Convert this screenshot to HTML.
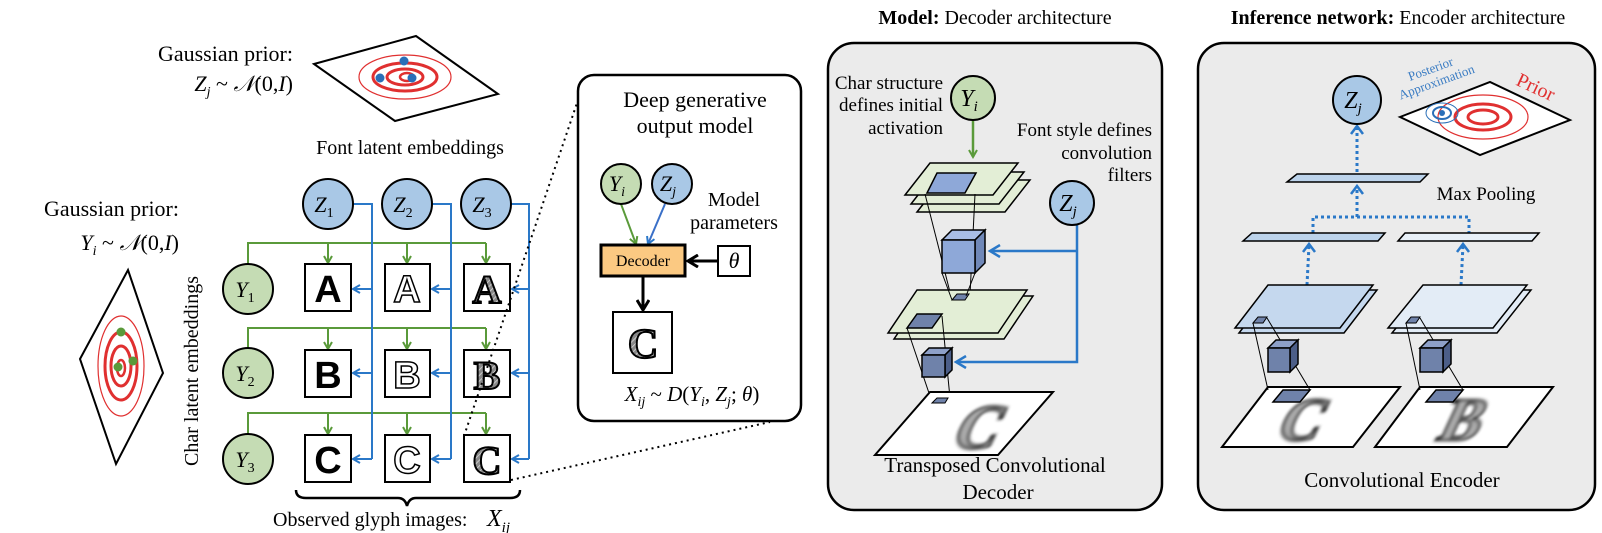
<!DOCTYPE html>
<html><head><meta charset="utf-8"><style>
html,body{margin:0;padding:0;background:#fff;}
svg{display:block;font-family:"Liberation Serif","Times New Roman","Noto Serif CJK SC","DejaVu Serif",serif;}
text{font-family:"Liberation Serif","Times New Roman","Noto Serif CJK SC","DejaVu Serif",serif;}
text.sans{font-family:"Liberation Sans",sans-serif;}
</style></head><body>
<svg width="1602" height="533" viewBox="0 0 1602 533" xmlns="http://www.w3.org/2000/svg" font-family="Liberation Serif, serif">
<defs>
<marker id="ag" markerWidth="10" markerHeight="10" refX="8" refY="5" orient="auto" markerUnits="userSpaceOnUse"><path d="M1,1 L8,5 L1,9" fill="none" stroke="#5a9a3a" stroke-width="2"/></marker>
<marker id="ab" markerWidth="10" markerHeight="10" refX="8" refY="5" orient="auto" markerUnits="userSpaceOnUse"><path d="M1,1 L8,5 L1,9" fill="none" stroke="#2a78c8" stroke-width="2"/></marker>
<marker id="ab2" markerWidth="14" markerHeight="14" refX="11" refY="7" orient="auto" markerUnits="userSpaceOnUse"><path d="M1,1 L11,7 L1,13" fill="none" stroke="#2a78c8" stroke-width="2.5"/></marker>
<marker id="ak" markerWidth="14" markerHeight="14" refX="11" refY="7" orient="auto" markerUnits="userSpaceOnUse"><path d="M1,1 L11,7 L1,13" fill="none" stroke="#000" stroke-width="3"/></marker>
<filter id="bl"><feGaussianBlur stdDeviation="1.6"/></filter>
<pattern id="hatch" width="4" height="4" patternUnits="userSpaceOnUse" patternTransform="rotate(45)"><rect width="4" height="4" fill="#888"/><line x1="0" y1="0" x2="0" y2="4" stroke="#ddd" stroke-width="1.5"/></pattern>
</defs>

<!-- ===== Left section ===== -->
<text x="293" y="61" font-size="22" text-anchor="end">Gaussian prior:</text>
<text x="293" y="91" font-size="22" text-anchor="end" font-style="italic">Z<tspan font-size="14" dy="5">j</tspan><tspan dy="-5" font-style="normal"> ~ </tspan>𝒩<tspan font-style="normal">(0,</tspan>I<tspan font-style="normal">)</tspan></text>
<polygon points="314,64 416,36 498,94 395,121" fill="#fff" stroke="#000" stroke-width="2"/>
<ellipse cx="405" cy="77" rx="46" ry="22" fill="none" stroke="#e03030" stroke-width="1.2"/>
<ellipse cx="405" cy="77" rx="32" ry="14" fill="none" stroke="#e03030" stroke-width="3"/>
<ellipse cx="405" cy="77" rx="18" ry="8" fill="none" stroke="#e03030" stroke-width="3"/>
<ellipse cx="407" cy="77" rx="7" ry="4" fill="none" stroke="#e03030" stroke-width="2.5"/>
<circle cx="404" cy="61" r="4.5" fill="#2a6fb8"/><circle cx="380" cy="78" r="4.5" fill="#2a6fb8"/><circle cx="412" cy="78" r="4.5" fill="#2a6fb8"/>

<text x="410" y="154" font-size="20" text-anchor="middle">Font latent embeddings</text>

<text x="179" y="216" font-size="22" text-anchor="end">Gaussian prior:</text>
<text x="179" y="250" font-size="22" text-anchor="end" font-style="italic">Y<tspan font-size="14" dy="5">i</tspan><tspan dy="-5" font-style="normal"> ~ </tspan>𝒩<tspan font-style="normal">(0,</tspan>I<tspan font-style="normal">)</tspan></text>
<polygon points="128,270 163,373 116,464 80,359" fill="#fff" stroke="#000" stroke-width="2"/>
<ellipse cx="121" cy="366" rx="23" ry="50" fill="none" stroke="#e03030" stroke-width="1.2"/>
<ellipse cx="121" cy="366" rx="16" ry="34" fill="none" stroke="#e03030" stroke-width="3"/>
<ellipse cx="121" cy="366" rx="10" ry="20" fill="none" stroke="#e03030" stroke-width="3"/>
<ellipse cx="121" cy="368" rx="4" ry="8" fill="none" stroke="#e03030" stroke-width="2.5"/>
<circle cx="121" cy="332" r="4.5" fill="#5a9a3a"/><circle cx="118" cy="367" r="4.5" fill="#5a9a3a"/><circle cx="133" cy="361" r="4.5" fill="#5a9a3a"/>

<text x="0" y="0" font-size="20" text-anchor="middle" transform="translate(198,371) rotate(-90)">Char latent embeddings</text>

<!-- green lines -->
<g stroke="#5a9a3a" stroke-width="2" fill="none">
<path d="M248,264 V243 H486"/><path d="M248,348 V328 H486"/><path d="M248,434 V413 H486"/>
<line x1="328" y1="243" x2="328" y2="263" marker-end="url(#ag)"/><line x1="407" y1="243" x2="407" y2="263" marker-end="url(#ag)"/><line x1="486" y1="243" x2="486" y2="263" marker-end="url(#ag)"/>
<line x1="328" y1="328" x2="328" y2="349" marker-end="url(#ag)"/><line x1="407" y1="328" x2="407" y2="349" marker-end="url(#ag)"/><line x1="486" y1="328" x2="486" y2="349" marker-end="url(#ag)"/>
<line x1="328" y1="413" x2="328" y2="434" marker-end="url(#ag)"/><line x1="407" y1="413" x2="407" y2="434" marker-end="url(#ag)"/><line x1="486" y1="413" x2="486" y2="434" marker-end="url(#ag)"/>
</g>
<!-- blue lines -->
<g stroke="#2a78c8" stroke-width="2" fill="none">
<path d="M353,204 H372 V459"/><path d="M432,204 H451 V459"/><path d="M511,204 H529 V459"/>
<line x1="372" y1="289" x2="353" y2="289" marker-end="url(#ab)"/><line x1="372" y1="373" x2="353" y2="373" marker-end="url(#ab)"/><line x1="372" y1="459" x2="353" y2="459" marker-end="url(#ab)"/>
<line x1="451" y1="289" x2="432" y2="289" marker-end="url(#ab)"/><line x1="451" y1="373" x2="432" y2="373" marker-end="url(#ab)"/><line x1="451" y1="459" x2="432" y2="459" marker-end="url(#ab)"/>
<line x1="529" y1="289" x2="512" y2="289" marker-end="url(#ab)"/><line x1="529" y1="373" x2="512" y2="373" marker-end="url(#ab)"/><line x1="529" y1="459" x2="512" y2="459" marker-end="url(#ab)"/>
</g>
<!-- Z circles -->
<g stroke="#000" stroke-width="2" fill="#a9c8e6">
<circle cx="328" cy="204" r="25"/><circle cx="407" cy="204" r="25"/><circle cx="486" cy="204" r="25"/>
</g>
<g font-size="22" font-style="italic" text-anchor="middle">
<text x="324" y="212">Z<tspan font-size="14" font-style="normal" dy="5">1</tspan></text>
<text x="403" y="212">Z<tspan font-size="14" font-style="normal" dy="5">2</tspan></text>
<text x="482" y="212">Z<tspan font-size="14" font-style="normal" dy="5">3</tspan></text>
</g>
<g stroke="#000" stroke-width="2" fill="#c5dcb4">
<circle cx="248" cy="289" r="25"/><circle cx="248" cy="373" r="25"/><circle cx="248" cy="459" r="25"/>
</g>
<g font-size="22" font-style="italic" text-anchor="middle">
<text x="245" y="297">Y<tspan font-size="14" font-style="normal" dy="5">1</tspan></text>
<text x="245" y="381">Y<tspan font-size="14" font-style="normal" dy="5">2</tspan></text>
<text x="245" y="467">Y<tspan font-size="14" font-style="normal" dy="5">3</tspan></text>
</g>
<!-- glyph boxes -->
<g stroke="#000" stroke-width="2" fill="#fff">
<rect x="305" y="264" width="46" height="47"/><rect x="385" y="264" width="45" height="47"/><rect x="464" y="264" width="46" height="47"/>
<rect x="305" y="350" width="46" height="47"/><rect x="385" y="350" width="45" height="47"/><rect x="464" y="350" width="46" height="47"/>
<rect x="305" y="435" width="46" height="47"/><rect x="385" y="435" width="45" height="47"/><rect x="464" y="435" width="46" height="47"/>
</g>
<g font-weight="bold" font-size="38" text-anchor="middle">
<text class="sans" x="328" y="302">A</text>
<text class="sans" x="328" y="388">B</text>
<text class="sans" x="328" y="473">C</text>
<text class="sans" x="407" y="302" fill="#fff" stroke="#000" stroke-width="1.5">A</text>
<text class="sans" x="407" y="388" fill="#fff" stroke="#000" stroke-width="1.5">B</text>
<text class="sans" x="407" y="473" fill="#fff" stroke="#000" stroke-width="1.5">C</text>
<text x="487" y="303" fill="url(#hatch)" stroke="#000" stroke-width="2" font-size="40">A</text>
<text x="487" y="389" fill="url(#hatch)" stroke="#000" stroke-width="2" font-size="40">B</text>
<text x="487" y="474" fill="url(#hatch)" stroke="#000" stroke-width="2" font-size="40">C</text>
</g>
<!-- brace -->
<path d="M296,490 Q296,498 306,498 L398,498 Q405,498 407,506 Q409,498 416,498 L510,498 Q520,498 520,490" fill="none" stroke="#000" stroke-width="2.5"/>
<text x="273" y="526" font-size="20">Observed glyph images:</text>
<text x="487" y="526" font-size="24" font-style="italic">X<tspan font-size="15" dy="6">ij</tspan></text>

<!-- dotted zoom lines -->
<line x1="464" y1="436" x2="577" y2="103" stroke="#000" stroke-width="2" stroke-dasharray="2,4"/>
<line x1="511" y1="480" x2="770" y2="422" stroke="#000" stroke-width="2" stroke-dasharray="2,4"/>

<!-- ===== Deep generative box ===== -->
<rect x="578" y="75" width="223" height="346" rx="16" fill="#fff" stroke="#000" stroke-width="2.5"/>
<text x="695" y="107" font-size="22" text-anchor="middle">Deep generative</text>
<text x="695" y="133" font-size="22" text-anchor="middle">output model</text>
<line x1="621" y1="204" x2="636" y2="244" stroke="#5a9a3a" stroke-width="2" marker-end="url(#ag)"/>
<line x1="665" y1="204" x2="648" y2="244" stroke="#3a70c8" stroke-width="2" marker-end="url(#ab)"/>
<circle cx="621" cy="184" r="20" fill="#c5dcb4" stroke="#000" stroke-width="2"/>
<circle cx="672" cy="184" r="20" fill="#a9c8e6" stroke="#000" stroke-width="2"/>
<text x="617" y="191" font-size="22" font-style="italic" text-anchor="middle">Y<tspan font-size="14" dy="5">i</tspan></text>
<text x="668" y="191" font-size="22" font-style="italic" text-anchor="middle">Z<tspan font-size="14" dy="5">j</tspan></text>
<text x="734" y="206" font-size="20" text-anchor="middle">Model</text>
<text x="734" y="229" font-size="20" text-anchor="middle">parameters</text>
<rect x="601" y="245" width="84" height="31" fill="#fbc982" stroke="#000" stroke-width="3"/>
<text x="643" y="266" font-size="16" text-anchor="middle">Decoder</text>
<rect x="718" y="246" width="32" height="30" fill="#fff" stroke="#000" stroke-width="2"/>
<text x="734" y="268" font-size="22" font-style="italic" text-anchor="middle">θ</text>
<line x1="718" y1="261" x2="688" y2="261" stroke="#000" stroke-width="3" marker-end="url(#ak)"/>
<line x1="643" y1="276" x2="643" y2="310" stroke="#000" stroke-width="3" marker-end="url(#ak)"/>
<rect x="613" y="312" width="59" height="61" fill="#fff" stroke="#000" stroke-width="2"/>
<text x="643" y="358" font-size="42" font-weight="bold" text-anchor="middle" fill="url(#hatch)" stroke="#000" stroke-width="2">C</text>
<text x="692" y="401" font-size="21" font-style="italic" text-anchor="middle">X<tspan font-size="14" dy="5">ij</tspan><tspan dy="-5" font-style="normal"> ~ </tspan>D<tspan font-style="normal">(</tspan>Y<tspan font-size="14" dy="5">i</tspan><tspan dy="-5" font-style="normal">, </tspan>Z<tspan font-size="14" dy="5">j</tspan><tspan dy="-5" font-style="normal">; </tspan>θ<tspan font-style="normal">)</tspan></text>

<!-- ===== Decoder panel ===== -->
<text x="995" y="24" font-size="20" text-anchor="middle"><tspan font-weight="bold">Model:</tspan> Decoder architecture</text>
<rect x="828" y="43" width="334" height="467" rx="26" fill="#ebebeb" stroke="#000" stroke-width="2.5"/>
<g font-size="19" text-anchor="end">
<text x="943" y="89">Char structure</text><text x="943" y="111">defines initial</text><text x="943" y="134">activation</text>
<text x="1152" y="136">Font style defines</text><text x="1152" y="159">convolution</text><text x="1152" y="181">filters</text>
</g>
<line x1="973" y1="120" x2="973" y2="157" stroke="#5a9a3a" stroke-width="2.5" marker-end="url(#ag)"/>
<circle cx="973" cy="98" r="22" fill="#c5dcb4" stroke="#000" stroke-width="2"/>
<text x="969" y="106" font-size="24" font-style="italic" text-anchor="middle">Y<tspan font-size="15" dy="5">i</tspan></text>
<g stroke="#2a78c8" stroke-width="2.5" fill="none">
<path d="M1077,225 V362 H956" marker-end="url(#ab2)"/>
<path d="M1077,251 H990" marker-end="url(#ab2)"/>
</g>
<circle cx="1072" cy="203" r="22" fill="#a9c8e6" stroke="#000" stroke-width="2"/>
<text x="1068" y="211" font-size="24" font-style="italic" text-anchor="middle">Z<tspan font-size="15" dy="5">j</tspan></text>
<!-- top layers -->
<g stroke="#000" stroke-width="1.5" fill="#e3eed6">
<polygon points="905,195 930,163 1018,163 993,195" transform="translate(12,17)"/>
<polygon points="905,195 930,163 1018,163 993,195" transform="translate(6,9)"/>
<polygon points="905,195 930,163 1018,163 993,195"/>
</g>
<polygon points="927,193 937,173 976,173 965,193" fill="#8ea8d8" stroke="#000" stroke-width="1.5"/>
<line x1="925" y1="194" x2="952" y2="300" stroke="#000" stroke-width="1"/>
<line x1="975" y1="194" x2="970" y2="295" stroke="#000" stroke-width="1"/>
<!-- cube 1 -->
<polygon points="942,240 952,230 985,230 975,240" fill="#a8bde6" stroke="#000" stroke-width="1.5"/>
<polygon points="975,240 985,230 985,263 975,273" fill="#7088b8" stroke="#000" stroke-width="1.5"/>
<rect x="942" y="240" width="33" height="33" fill="#8ea8d8" stroke="#000" stroke-width="1.5"/>
<!-- second layers -->
<g stroke="#000" stroke-width="1.5" fill="#e3eed6">
<polygon points="888,333 917,290 1027,290 998,333" transform="translate(6,6)"/>
<polygon points="888,333 917,290 1027,290 998,333"/>
</g>
<polygon points="952,300 957,294 969,294 965,300" fill="#6f82aa" stroke="#000" stroke-width="1"/>
<line x1="942" y1="273" x2="952" y2="300" stroke="#000" stroke-width="1"/>
<line x1="975" y1="273" x2="966" y2="296" stroke="#000" stroke-width="1"/>
<polygon points="907,328 917,314 942,314 932,328" fill="#6f82aa" stroke="#000" stroke-width="1.5"/>
<line x1="907" y1="328" x2="932" y2="402" stroke="#000" stroke-width="1"/>
<line x1="942" y1="316" x2="950" y2="398" stroke="#000" stroke-width="1"/>
<!-- cube 2 -->
<polygon points="922,355 929,348 952,348 945,355" fill="#8ea0c8" stroke="#000" stroke-width="1.5"/>
<polygon points="945,355 952,348 952,370 945,377" fill="#4c5e88" stroke="#000" stroke-width="1.5"/>
<rect x="922" y="355" width="23" height="22" fill="#6f82aa" stroke="#000" stroke-width="1.5"/>
<!-- bottom image -->
<polygon points="875,455 930,392 1053,392 998,455" fill="#fff" stroke="#000" stroke-width="2"/>
<text x="970" y="448" font-size="62" font-weight="bold" text-anchor="middle" fill="#aaa" stroke="#222" stroke-width="2.5" filter="url(#bl)" transform="skewX(-25) translate(210,0)">C</text>
<polygon points="932,403 937,398 948,398 945,403" fill="#6f82aa" stroke="#000" stroke-width="1"/>
<text x="995" y="472" font-size="21" text-anchor="middle">Transposed Convolutional</text>
<text x="998" y="499" font-size="21" text-anchor="middle">Decoder</text>

<!-- ===== Encoder panel ===== -->
<text x="1398" y="24" font-size="20" text-anchor="middle"><tspan font-weight="bold">Inference network:</tspan> Encoder architecture</text>
<rect x="1198" y="43" width="397" height="467" rx="26" fill="#ebebeb" stroke="#000" stroke-width="2.5"/>
<!-- prior -->
<polygon points="1400,117 1490,82 1570,120 1480,155" fill="#fff" stroke="#000" stroke-width="2"/>
<ellipse cx="1483" cy="117" rx="45" ry="22" fill="none" stroke="#e03030" stroke-width="1.2"/>
<ellipse cx="1483" cy="117" rx="28" ry="13" fill="none" stroke="#e03030" stroke-width="3"/>
<ellipse cx="1483" cy="117" rx="15" ry="7" fill="none" stroke="#e03030" stroke-width="3"/>
<ellipse cx="1442" cy="113" rx="16" ry="10" fill="none" stroke="#2a6fb8" stroke-width="1"/>
<ellipse cx="1442" cy="113" rx="9" ry="6" fill="none" stroke="#2a6fb8" stroke-width="2"/>
<circle cx="1442" cy="113" r="3" fill="#2a6fb8"/>
<text x="0" y="0" font-size="13" fill="#3a7cc3" text-anchor="middle" transform="translate(1432,73) rotate(-20)">Posterior</text>
<text x="0" y="0" font-size="13" fill="#3a7cc3" text-anchor="middle" transform="translate(1438,86) rotate(-20)">Approximation</text>
<text x="0" y="0" font-size="20" fill="#e03030" text-anchor="middle" transform="translate(1533,93) rotate(25)">Prior</text>
<!-- dotted arrows -->
<g stroke="#2a78c8" stroke-width="3" stroke-dasharray="3,3" fill="none">
<line x1="1357" y1="172" x2="1357" y2="127"/>
<line x1="1357" y1="217" x2="1357" y2="187"/>
<path d="M1313,233 V217 H1469 V233"/>
<line x1="1307" y1="285" x2="1309" y2="245"/>
<line x1="1461" y1="285" x2="1463" y2="245"/>
</g>
<g stroke="#2a78c8" stroke-width="2.5" fill="none">
<path d="M1351,134 L1357,126 L1363,134"/><path d="M1351,194 L1357,186 L1363,194"/>
<path d="M1303,252 L1309,244 L1315,252"/><path d="M1457,252 L1463,244 L1469,252"/>
</g>
<circle cx="1357" cy="100" r="24" fill="#a9c8e6" stroke="#000" stroke-width="2"/>
<text x="1353" y="108" font-size="24" font-style="italic" text-anchor="middle">Z<tspan font-size="15" dy="5">j</tspan></text>
<polygon points="1287,182 1297,174 1428,174 1420,182" fill="#bcd3eb" stroke="#000" stroke-width="1.5"/>
<text x="1486" y="200" font-size="19" text-anchor="middle">Max Pooling</text>
<polygon points="1243,241 1252,233 1385,233 1378,241" fill="#bcd3eb" stroke="#000" stroke-width="1.5"/>
<polygon points="1398,241 1405,233 1539,233 1532,241" fill="#e8f0f8" stroke="#000" stroke-width="1.5"/>
<!-- conv planes -->
<g stroke="#000" stroke-width="1.5">
<polygon points="1235,328 1268,285 1373,285 1340,328" fill="#c5d8ee" transform="translate(4,5)"/>
<polygon points="1235,328 1268,285 1373,285 1340,328" fill="#c5d8ee"/>
<polygon points="1388,328 1423,285 1527,285 1493,328" fill="#e3ecf6" transform="translate(4,5)"/>
<polygon points="1388,328 1423,285 1527,285 1493,328" fill="#e3ecf6"/>
</g>
<polygon points="1253,323 1258,317 1267,317 1263,323" fill="#6f82aa" stroke="#000" stroke-width="1"/>
<polygon points="1406,323 1411,317 1420,317 1416,323" fill="#6f82aa" stroke="#000" stroke-width="1"/>
<!-- image planes -->
<polygon points="1222,447 1268,387 1400,387 1353,447" fill="#fff" stroke="#000" stroke-width="2"/>
<polygon points="1375,447 1420,387 1553,387 1507,447" fill="#fff" stroke="#000" stroke-width="2"/>
<text x="1300" y="440" font-size="60" font-weight="bold" text-anchor="middle" fill="#aaa" stroke="#222" stroke-width="2.5" filter="url(#bl)" transform="skewX(-25) translate(200,0)">C</text>
<text x="1460" y="440" font-size="60" font-weight="bold" text-anchor="middle" fill="#aaa" stroke="#222" stroke-width="2.5" filter="url(#bl)" transform="skewX(-25) translate(200,0)">B</text>
<g stroke="#000" stroke-width="1">
<line x1="1253" y1="323" x2="1268" y2="390"/><line x1="1267" y1="318" x2="1310" y2="390"/>
<line x1="1406" y1="323" x2="1420" y2="390"/><line x1="1420" y1="318" x2="1463" y2="390"/>
</g>
<polygon points="1273,402 1283,390 1310,390 1300,402" fill="#6f82aa" stroke="#000" stroke-width="1.5"/>
<polygon points="1426,402 1436,390 1463,390 1453,402" fill="#6f82aa" stroke="#000" stroke-width="1.5"/>
<!-- cubes -->
<polygon points="1268,348 1276,340 1298,340 1290,348" fill="#8ea0c8" stroke="#000" stroke-width="1.5"/>
<polygon points="1290,348 1298,340 1298,364 1290,372" fill="#4c5e88" stroke="#000" stroke-width="1.5"/>
<rect x="1268" y="348" width="22" height="24" fill="#6f82aa" stroke="#000" stroke-width="1.5"/>
<polygon points="1420,348 1428,340 1451,340 1443,348" fill="#8ea0c8" stroke="#000" stroke-width="1.5"/>
<polygon points="1443,348 1451,340 1451,364 1443,372" fill="#4c5e88" stroke="#000" stroke-width="1.5"/>
<rect x="1420" y="348" width="23" height="24" fill="#6f82aa" stroke="#000" stroke-width="1.5"/>
<text x="1402" y="487" font-size="21" text-anchor="middle">Convolutional Encoder</text>
</svg>
</body></html>
